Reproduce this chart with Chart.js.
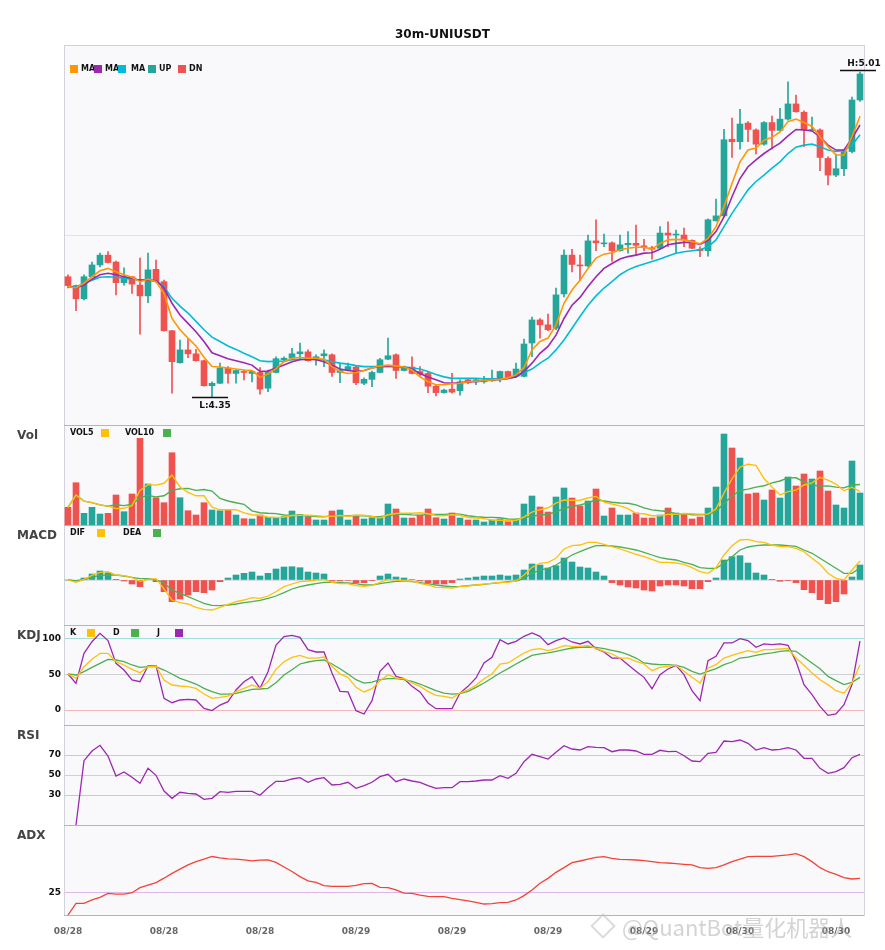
<!DOCTYPE html>
<html>
<head>
<meta charset="utf-8">
<script src="https://cdn.jsdelivr.net/npm/chart.js@4.4.0/dist/chart.umd.min.js"></script>
<style>
  body { margin: 0; background: #fff; font-family: 'DejaVu Sans', sans-serif; }
  #wrap { position: relative; width: 885px; height: 950px; overflow: hidden; }
  #kline { position: absolute; left: 0; top: 0; }
  .t { position: absolute; font-weight: bold; white-space: nowrap; }
  .title { left: 0; width: 885px; text-align: center; top: 27px; font-size: 12px; line-height: 14px; color: #111; }
  .pane { left: 17px; font-size: 12px; line-height: 14px; color: #444; }
  .lg { font-size: 8px; line-height: 8px; color: #111; }
  .bx { position: absolute; width: 8px; height: 8px; }
  .wm { left: 622px; top: 910px; font-family: 'Noto Sans CJK SC', sans-serif; font-weight: normal; font-size: 22px; color: rgba(175,175,175,0.55); }
  .logo { position: absolute; left: 594px; top: 917px; width: 14px; height: 14px; border: 2px solid rgba(190,190,190,0.55); transform: rotate(45deg); }
</style>
</head>
<body>
<div id="wrap">
  <canvas id="kline" width="885" height="950"></canvas>

  <div class="t title">30m-UNIUSDT</div>

  <!-- main legend -->
  <div class="bx" style="left:70px;top:65px;background:#ff9800"></div>
  <div class="t lg" style="left:81px;top:65px">MA</div>
  <div class="bx" style="left:94px;top:65px;background:#9c27b0"></div>
  <div class="t lg" style="left:105px;top:65px">MA</div>
  <div class="bx" style="left:118px;top:65px;background:#00bcd4"></div>
  <div class="t lg" style="left:131px;top:65px">MA</div>
  <div class="bx" style="left:148px;top:65px;background:#26a69a"></div>
  <div class="t lg" style="left:159px;top:65px">UP</div>
  <div class="bx" style="left:178px;top:65px;background:#ef5350"></div>
  <div class="t lg" style="left:189px;top:65px">DN</div>

  <!-- pane labels -->
  <div class="t pane" style="top:428px">Vol</div>
  <div class="t pane" style="top:528px">MACD</div>
  <div class="t pane" style="top:628px">KDJ</div>
  <div class="t pane" style="top:728px">RSI</div>
  <div class="t pane" style="top:828px">ADX</div>

  <!-- vol legend -->
  <div class="t lg" style="left:70px;top:429px">VOL5</div>
  <div class="bx" style="left:101px;top:429px;background:#ffc107"></div>
  <div class="t lg" style="left:125px;top:429px">VOL10</div>
  <div class="bx" style="left:163px;top:429px;background:#4caf50"></div>

  <!-- macd legend -->
  <div class="t lg" style="left:70px;top:529px">DIF</div>
  <div class="bx" style="left:97px;top:529px;background:#ffc107"></div>
  <div class="t lg" style="left:123px;top:529px">DEA</div>
  <div class="bx" style="left:153px;top:529px;background:#4caf50"></div>

  <!-- kdj legend -->
  <div class="t lg" style="left:70px;top:629px">K</div>
  <div class="bx" style="left:87px;top:629px;background:#ffc107"></div>
  <div class="t lg" style="left:113px;top:629px">D</div>
  <div class="bx" style="left:131px;top:629px;background:#4caf50"></div>
  <div class="t lg" style="left:157px;top:629px">J</div>
  <div class="bx" style="left:175px;top:629px;background:#9c27b0"></div>

  <div class="logo"></div>
  <div class="t wm">@QuantBot量化机器人</div>
</div>

<script>
// 30m candles, 08/28 -> 08/30
const dayNames = ['08/28', '08/29', '08/30'];
const dayBars = [36, 48, 16];

const opens = [
  4.595,4.577,4.550,4.595,4.619,4.639,4.625,4.583,4.595,4.578,
  4.556,4.610,4.585,4.485,4.420,4.446,4.438,4.424,4.373,4.378,
  4.409,4.398,4.402,4.398,4.400,4.368,4.400,4.426,4.429,4.438,
  4.442,4.429,4.434,4.436,4.400,4.404,4.411,4.378,4.386,4.400,
  4.427,4.436,4.404,4.411,4.402,4.398,4.372,4.359,4.366,4.363,
  4.385,4.381,4.381,4.383,4.385,4.402,4.392,4.392,4.460,4.507,
  4.497,4.490,4.560,4.639,4.619,4.617,4.668,4.662,4.664,4.648,
  4.660,4.663,4.658,4.654,4.653,4.684,4.680,4.680,4.669,4.651,
  4.648,4.709,4.719,4.875,4.870,4.908,4.894,4.865,4.909,4.893,
  4.916,4.947,4.930,4.893,4.894,4.836,4.802,4.815,4.850,4.955
];
const highs = [
  4.599,4.578,4.599,4.625,4.643,4.646,4.627,4.613,4.596,4.633,
  4.643,4.629,4.588,4.486,4.466,4.468,4.447,4.425,4.381,4.419,
  4.412,4.405,4.405,4.404,4.410,4.405,4.432,4.432,4.449,4.460,
  4.446,4.436,4.446,4.438,4.419,4.419,4.413,4.389,4.403,4.429,
  4.470,4.438,4.413,4.432,4.412,4.401,4.375,4.366,4.398,4.385,
  4.388,4.388,4.392,4.405,4.403,4.403,4.419,4.468,4.513,4.510,
  4.519,4.572,4.650,4.651,4.639,4.680,4.711,4.682,4.666,4.680,
  4.687,4.700,4.671,4.657,4.697,4.707,4.690,4.694,4.670,4.656,
  4.713,4.753,4.895,4.918,4.936,4.911,4.896,4.911,4.922,4.938,
  4.992,4.965,4.933,4.920,4.896,4.839,4.845,4.851,4.961,5.012
];
const lows = [
  4.572,4.526,4.548,4.594,4.615,4.623,4.558,4.578,4.561,4.478,
  4.542,4.584,4.484,4.358,4.419,4.430,4.423,4.372,4.350,4.377,
  4.378,4.378,4.385,4.381,4.356,4.361,4.399,4.424,4.427,4.426,
  4.423,4.415,4.412,4.392,4.379,4.403,4.375,4.375,4.371,4.399,
  4.426,4.388,4.403,4.397,4.392,4.359,4.352,4.358,4.358,4.354,
  4.377,4.375,4.378,4.382,4.381,4.389,4.390,4.391,4.432,4.470,
  4.485,4.487,4.554,4.605,4.587,4.615,4.648,4.656,4.626,4.647,
  4.643,4.639,4.648,4.631,4.652,4.656,4.643,4.656,4.652,4.636,
  4.637,4.708,4.717,4.838,4.855,4.870,4.845,4.863,4.855,4.892,
  4.914,4.930,4.860,4.892,4.811,4.782,4.799,4.801,4.847,4.952
];
const closes = [
  4.577,4.550,4.595,4.619,4.639,4.624,4.583,4.595,4.580,4.556,
  4.609,4.585,4.485,4.422,4.446,4.438,4.424,4.373,4.378,4.409,
  4.398,4.404,4.400,4.402,4.366,4.402,4.428,4.429,4.438,4.442,
  4.424,4.432,4.438,4.400,4.404,4.412,4.379,4.386,4.400,4.426,
  4.434,4.404,4.411,4.398,4.397,4.372,4.359,4.364,4.360,4.381,
  4.379,4.385,4.383,4.387,4.402,4.390,4.407,4.458,4.507,4.497,
  4.487,4.558,4.639,4.620,4.617,4.668,4.664,4.664,4.648,4.660,
  4.663,4.659,4.654,4.651,4.684,4.680,4.682,4.670,4.653,4.648,
  4.711,4.719,4.874,4.870,4.906,4.895,4.865,4.909,4.893,4.916,
  4.947,4.931,4.894,4.895,4.838,4.802,4.815,4.850,4.955,5.008
];

const ma5 = [
  4.575,4.572,4.582,4.595,4.607,4.612,4.605,4.599,4.594,4.585,
  4.590,4.585,4.561,4.510,4.487,4.470,4.454,4.431,4.412,4.411,
  4.409,4.407,4.405,4.404,4.390,4.397,4.408,4.422,4.429,4.431,
  4.429,4.429,4.427,4.412,4.402,4.398,4.400,4.404,4.409,4.413,
  4.415,4.413,4.411,4.405,4.391,4.381,4.375,4.375,4.377,4.378,
  4.381,4.382,4.383,4.385,4.386,4.389,4.395,4.410,4.446,4.463,
  4.470,4.497,4.541,4.568,4.588,4.612,4.633,4.641,4.644,4.650,
  4.653,4.655,4.655,4.651,4.663,4.670,4.671,4.670,4.666,4.662,
  4.673,4.697,4.738,4.785,4.829,4.853,4.857,4.873,4.879,4.890,
  4.911,4.916,4.909,4.901,4.880,4.860,4.843,4.843,4.880,4.922
];
const ma10 = [
  4.575,4.572,4.578,4.590,4.599,4.602,4.599,4.595,4.592,4.588,
  4.588,4.587,4.572,4.541,4.517,4.500,4.483,4.463,4.440,4.434,
  4.428,4.424,4.420,4.415,4.402,4.403,4.409,4.415,4.422,4.426,
  4.427,4.426,4.422,4.415,4.407,4.404,4.402,4.404,4.409,4.412,
  4.413,4.412,4.411,4.407,4.398,4.391,4.385,4.379,4.378,4.379,
  4.381,4.381,4.383,4.385,4.386,4.388,4.391,4.402,4.419,4.439,
  4.453,4.476,4.510,4.537,4.553,4.575,4.595,4.612,4.622,4.631,
  4.636,4.639,4.643,4.644,4.651,4.660,4.663,4.665,4.665,4.661,
  4.669,4.687,4.717,4.758,4.795,4.819,4.833,4.846,4.857,4.867,
  4.882,4.895,4.894,4.892,4.880,4.863,4.853,4.853,4.877,4.904
];
const ma20 = [
  4.575,4.574,4.582,4.588,4.594,4.595,4.594,4.592,4.590,4.588,
  4.588,4.587,4.575,4.551,4.535,4.521,4.504,4.487,4.472,4.463,
  4.454,4.447,4.439,4.432,4.424,4.422,4.423,4.423,4.426,4.427,
  4.427,4.427,4.426,4.422,4.419,4.417,4.414,4.412,4.412,4.412,
  4.413,4.412,4.411,4.409,4.407,4.402,4.396,4.391,4.388,4.388,
  4.388,4.388,4.387,4.387,4.386,4.388,4.392,4.400,4.407,4.419,
  4.429,4.446,4.466,4.490,4.514,4.537,4.556,4.572,4.585,4.599,
  4.609,4.616,4.621,4.626,4.631,4.637,4.643,4.646,4.648,4.650,
  4.656,4.670,4.697,4.724,4.748,4.772,4.789,4.802,4.816,4.829,
  4.846,4.859,4.863,4.865,4.860,4.853,4.850,4.852,4.863,4.884
];

// volume (k)
const volume = [
  17.7,42.3,11.7,17.7,11,11.7,30,13.3,31,86.7,
  41,27.3,22.3,72.3,27.3,14.3,10,22.3,15,14.3,
  15,10,6.3,6,10,7.7,7.7,8.3,14,10.7,
  8.3,5,5,14,15,5,9.3,6,7.3,7.3,
  21,16,7,7,10,16,7.3,6,12,7,
  5,5,3,5,6,3.3,5,21,29,18,
  13,28,37,27,19,24,36,9,17,10,
  10,12,7,7,10,17,12,11.7,6,8,
  17,38,91,77,67,31,32,25,35,27,
  48,39,51,46,54,34,20,17,64,32
];
const vol5 = [
  17.7,30,23.9,22.4,20.1,18.9,16.4,16.7,19.4,34.5,
  40.4,39.9,41.7,49.9,38,32.7,29.2,29.2,17.8,15.2,
  15.3,15.3,12.1,10.3,9.5,8,7.5,7.9,9.5,9.7,
  9.8,9.3,8.6,8.6,9.5,8.8,9.7,9.9,8.5,7,
  10.2,11.5,11.7,11.7,12.2,11.2,9.5,9.3,10.3,9.7,
  7.5,7,6.4,5,4.8,4.5,4.5,8.1,12.9,15.3,
  17.2,21.8,25,24.6,24.8,27,28.6,23,21,19.2,
  16.4,11.6,11.2,9.2,9.2,10.6,10.6,11.5,11.3,10.9,
  10.9,16.1,32,46.2,58,60.8,59.6,46.4,38,30,
  33.4,34.8,40,42.2,47.6,44.8,41,34.2,37.8,33.4
];
const vol10 = [
  17.7,30,23.9,22.4,20.1,18.7,20.3,19.4,20.7,27.3,
  29.6,28.1,29.2,34.7,36.3,36.6,34.6,35.5,33.9,26.6,
  24,22.3,20.7,14.1,12.3,11.7,11.4,10,9.9,9.6,
  8.9,8.4,8.3,9.1,9.6,9.3,9.5,9.2,8.6,8.2,
  9.5,10.6,10.8,10.1,9.6,10.7,10.5,10.5,11,10.9,
  9.3,8.2,7.8,7.6,7.2,6,5.7,7.2,8.9,10,
  10.8,13.1,16.5,18.7,20,22.1,25.2,24,22.8,22,
  21.7,20.1,17.1,15.1,14.2,13.5,11.1,11.4,10.3,10.1,
  10.8,13.4,21.8,28.8,34.5,35.9,37.9,39.2,42.1,44,
  47.1,47.2,43.2,40.1,38.8,39.1,37.9,37.1,40,40.5
];

// MACD (x1e-3)
const macdHist = [
  0,-1,2,6,9,7.3,0.3,-1,-4,-6.7,
  1,-1.7,-11.7,-21.7,-19,-15,-11.7,-12.7,-10,-1.7,
  2,5,6.7,8,4,6.7,11,13,13.3,12.3,
  8,7,6,-1,-1,-0.5,-2.7,-2.7,-0.7,4,
  6,3,2,0.5,-1,-2.7,-4,-4,-2.7,1,
  2,3,4,4,5,4,5,10,16,15,
  12,14.3,22,18,13,12,8,4,-2.7,-5,
  -7,-8,-10,-11,-6,-5,-5,-6,-8.7,-8.7,
  -1.7,2,20,23.3,24.3,17,7,5,0.3,-1.3,
  -0.3,-2.7,-9.7,-12.7,-19.7,-23.7,-21.7,-14,3,15
];
const dif = [
  0,-2.3,0.7,4.7,7.7,8.3,5,4.3,2.3,-1.3,
  0.7,1.3,-9,-20,-22.7,-24,-27.3,-29.3,-30,-27.3,
  -24.3,-21.7,-20,-17.7,-18.3,-16,-11.7,-6.7,-4,-1.7,
  -1,0,0.7,-2.3,-3.7,-3.7,-5.7,-6.3,-5.3,-2.3,
  0.7,0,-1,-1,-3.3,-5,-7.3,-7.7,-8,-6.7,
  -6,-5,-4,-3.3,-2.3,-2.3,-1,5,12.7,16.7,
  17.7,21.7,31,34.3,35,37.7,37.7,35.7,33.3,31,
  28.3,25.7,23.3,20.7,17.7,17.7,17,15.7,12.3,8.3,
  6.7,12.3,25,34.3,40,40.7,38.3,37.7,35,33.3,
  33.3,31.7,28.3,21.7,15.7,6.7,1.7,0,10,19
];
const dea = [
  0,-0.7,0.5,2.7,4.7,5,5,4,2.7,1.3,
  1.3,0,-3,-10,-13.3,-16.7,-20,-23.3,-25.3,-25.7,
  -25,-24,-22.7,-21.7,-20.3,-18.3,-16,-12.7,-9,-6.7,
  -5,-3.7,-2.3,-2.3,-2.7,-3,-3.7,-5,-5,-3.7,
  -2.3,-1.3,-1,-1.7,-2.7,-3.7,-5,-6,-6.7,-6.3,
  -5.7,-5,-4.3,-3.3,-2.7,-1.7,-1,1.7,6.7,10,
  11.7,15,20,25,28.3,31.7,34.3,34.3,34,33,
  31.7,30,27.7,25,22.3,21,20,17.7,15.7,12.3,
  11.7,11.7,16.7,23.3,30,33,34.3,35,35,35,
  34.3,33.7,30,26.7,21.7,16.7,11.7,6.7,6.7,12.3
];

const kdjK = [
  50.7,44.6,61,71.4,79.8,79.8,68,63.4,57.3,52.6,
  61,62,42.3,35.2,33.8,32.9,30.5,22.5,16.4,17.8,
  19.7,25.8,30.5,35.2,30.5,39.9,57.3,68,74.2,77,
  73.2,73.2,74.6,61.5,50.7,46,31.9,25.4,30,41.3,
  49.8,45,44.1,38,33.3,26.3,20.7,19.2,16.9,23.9,
  28.6,34.7,44.1,50.7,64.8,66.2,73.2,80.3,85,86.4,
  83.6,86.4,90.6,89.7,89.7,91.1,86.4,82.6,78.9,73.2,
  73.2,68.5,64.8,55.4,60.1,61.5,62.9,54.5,46,38,
  59.2,63.8,73.2,77,80.3,83.6,81.2,85,85,85.9,
  86.4,73.2,62.9,52.1,42.7,35.7,27.2,23.9,38,63.8
];
const kdjD = [
  50.7,49.3,54,60.1,65.7,71.4,70.4,68,63.4,60.1,
  61,61,56.3,50.7,44.6,40.8,36.6,30.5,25.8,22.5,
  22.5,23.5,26.3,29.1,29.6,30.5,38.5,49.3,56.8,64.8,
  67.6,69.5,70.4,64.8,58.2,50.7,42.7,38,39.4,42.7,
  44.1,44.1,42.7,40.4,36.6,31.9,27.2,23.9,22.5,23,
  26.3,31.9,38,45.1,52.1,58.2,64.8,70.9,77,78.9,
  80.3,82.6,85,87.3,88.3,88.7,88.3,86.4,84,81.7,
  77.9,73.2,66.2,64.8,63.8,63.8,62.9,60.1,54.5,50.7,
  54.5,58.2,63.8,67.6,73.2,74.6,77,78.9,80.3,82.6,
  83.6,82.6,74.2,66.2,58.2,47.4,41.3,35.7,39,46
];
const kdjJ = [
  50.7,37.6,79.8,96.2,108,97.7,65.7,56.3,42.3,39.9,
  62,62.4,16.4,10.3,14.1,15,14.1,2.3,-0.9,7,
  11.7,28.2,39.9,47,30.5,54,91.5,103.3,105,102.3,
  85,81.7,81.7,52.1,26.3,25.4,-0.9,-5.6,13.1,54.5,
  66.2,47.4,44.1,33.3,25.4,9.9,1.9,1.9,1.9,23.9,
  33.3,45.1,66.2,74.2,99.1,93,96.7,103.8,108.5,103.8,
  92,97.7,101.4,95.8,93,96.7,86.4,81.7,73.2,73.2,
  63.8,54.5,46,30,49.8,57.7,62.9,49.8,27.2,13.1,
  69.5,75.6,94.4,94.4,100.5,97.7,88.3,93,92,93,
  91.1,68.5,35.7,21.6,5.2,-7.5,-5.6,7.5,36,97
];

const rsi = [
  null,0,64.3,74,79.7,69,49,53,47.7,41.7,
  56.7,49.7,34,26.7,32.7,31.7,31,25.7,26.7,33.3,
  32.7,33.7,33.7,33.7,29.7,37.3,43.7,43.7,46,47.3,
  42.7,46,47.3,40,40.7,42.7,36.7,39.3,42.7,48.3,
  50.7,43.3,46,44,42.7,39.3,36.7,37.3,37.3,43.3,
  43.3,44,45,45,49.3,46.7,51.7,63.3,70.7,68.3,
  66,72.7,79.3,76,75,78.3,77.7,77.3,73.3,75,
  75,74,70.7,70.7,74.7,73.3,73.7,69.3,64,63.3,
  71.7,72.7,84,83.3,85,81.7,75,77.3,75,75.7,
  77.3,75,66.7,66.7,56.7,51.7,53.3,57.3,67.3,70.7
];
const adx = [
  0,13,13,16.7,19.6,24,23.3,23.3,24.8,30.4,
  33.3,36,40.9,46.3,50.9,55.6,59.4,62,65,63.5,
  62.4,62,61.3,60.1,60.9,61.3,58.5,53.3,48.3,42.6,
  38,36.3,32.6,31.9,31.9,31.9,33,34.8,35.2,30.7,
  30.4,27.8,24.4,24.1,22.2,20.7,20.4,20.4,18.5,17,
  15.6,14,12.2,12.6,13.7,14,16.7,21.5,27.8,35.2,
  40.7,47.4,52.6,58.1,60,62.2,64.1,64.8,63,61.9,
  61.5,61.1,60.4,59.3,58.1,57.8,57,56.3,55.6,52.6,
  51.9,52.6,55.6,59.3,62.2,64.8,65.2,65.2,65.2,65.9,
  66.7,68.1,64.8,59.3,52.6,48.1,45.2,41.5,40,40.7
];

const timeLabels = [];
dayNames.forEach((d, k) => { for (let n = 0; n < dayBars[k]; n++) timeLabels.push(d); });

const UP = '#26a69a', DN = '#ef5350';
const barColors = opens.map((o, i) => closes[i] >= o ? UP : DN);
const histColors = macdHist.map(v => v >= 0 ? UP : DN);

const tickFont = { family: 'DejaVu Sans', size: 9, weight: 'bold' };
const fixWidth = s => { s.width = 64; };
const onlyTicks = vals => s => { s.ticks = vals.map(v => ({ value: v })); };

function lineSet(data, color, axis, width) {
  return { type: 'line', data: data, yAxisID: axis, borderColor: color, borderWidth: width || 1.3,
           pointRadius: 0, tension: 0, fill: false, order: 0, spanGaps: false };
}
function barSet(data, colors, axis, thick, order) {
  return { type: 'bar', data: data, yAxisID: axis, backgroundColor: colors, borderWidth: 0,
           barThickness: thick, grouped: false, order: order };
}

function levelColor(map) {
  return ctx => (ctx.tick && map[ctx.tick.value]) || 'rgba(0,0,0,0)';
}
function pane(weight, stackWeight, min, max, extra) {
  return Object.assign({
    type: 'linear', position: 'left', stack: 'panes', weight: weight, stackWeight: stackWeight,
    min: min, max: max,
    ticks: { display: false },
    grid: { drawTicks: false, color: '#e2e2ea' },
    border: { display: true, color: '#c6c6ce' },
    afterFit: fixWidth
  }, extra);
}

// frame, pane backgrounds and separators
const frame = {
  id: 'frame',
  beforeDraw(chart) {
    const { ctx, chartArea: a } = chart;
    ctx.save();
    ctx.fillStyle = '#f9f9fc';
    ctx.fillRect(a.left, a.top, a.right - a.left, a.bottom - a.top);
    ctx.restore();
  },
  beforeDatasetsDraw(chart) {
    const { ctx, chartArea: a, scales } = chart;
    ctx.save();
    ctx.lineWidth = 1;
    ctx.strokeStyle = '#d2d2da';
    ctx.strokeRect(a.left + 0.5, a.top + 0.5, a.right - a.left, a.bottom - a.top);
    ctx.strokeStyle = '#b4b4bc';
    ['yV', 'yM', 'yK', 'yR', 'yA'].forEach(id => {
      const y = Math.round(scales[id].top) + 0.5;
      ctx.beginPath(); ctx.moveTo(a.left, y); ctx.lineTo(a.right, y); ctx.stroke();
    });
    const yb = Math.round(a.bottom) + 0.5;
    ctx.beginPath(); ctx.moveTo(a.left, yb); ctx.lineTo(a.right, yb); ctx.stroke();
    ctx.restore();
  },
  afterDatasetsDraw(chart) {
    const { ctx } = chart;
    const xs = chart.scales.x, ys = chart.scales.yP;
    let hi = 0, lo = 0;
    highs.forEach((v, i) => { if (v > highs[hi]) hi = i; });
    lows.forEach((v, i) => { if (v < lows[lo]) lo = i; });
    ctx.save();
    ctx.strokeStyle = '#111'; ctx.fillStyle = '#111'; ctx.lineWidth = 1.3;
    ctx.font = 'bold 9px "DejaVu Sans"'; ctx.textAlign = 'center';
    const hx = xs.getPixelForValue(hi), hy = Math.round(ys.getPixelForValue(highs[hi])) - 1.5;
    ctx.beginPath(); ctx.moveTo(hx - 20, hy); ctx.lineTo(hx + 16, hy); ctx.stroke();
    ctx.textBaseline = 'bottom';
    ctx.fillText('H:' + highs[hi].toFixed(2), hx + 4, hy - 2);
    const lx = xs.getPixelForValue(lo), ly = Math.round(ys.getPixelForValue(lows[lo])) + 0.5;
    ctx.beginPath(); ctx.moveTo(lx - 20, ly); ctx.lineTo(lx + 16, ly); ctx.stroke();
    ctx.textBaseline = 'top';
    ctx.fillText('L:' + lows[lo].toFixed(2), lx + 3, ly + 4);
    ctx.restore();
  }
};

new Chart(document.getElementById('kline'), {
  data: {
    labels: timeLabels,
    datasets: [
      // candles
      barSet(lows.map((l, i) => [l, highs[i]]), barColors, 'yP', 1, 3),
      barSet(opens.map((o, i) => [o, closes[i]]), barColors, 'yP', 6, 2),
      lineSet(ma5, '#ff9800', 'yP', 1.6),
      lineSet(ma10, '#9c27b0', 'yP', 1.6),
      lineSet(ma20, '#00bcd4', 'yP', 1.6),
      // volume
      barSet(volume, barColors, 'yV', 6, 2),
      lineSet(vol5, '#ffc107', 'yV', 1.4),
      lineSet(vol10, '#4caf50', 'yV', 1.4),
      // macd
      barSet(macdHist, histColors, 'yM', 6, 2),
      lineSet(dif, '#ffc107', 'yM'),
      lineSet(dea, '#4caf50', 'yM'),
      // kdj
      lineSet(kdjK, '#ffc107', 'yK'),
      lineSet(kdjD, '#4caf50', 'yK'),
      lineSet(kdjJ, '#9c27b0', 'yK'),
      // rsi / adx
      lineSet(rsi, '#9c27b0', 'yR'),
      lineSet(adx, '#f44336', 'yA')
    ]
  },
  options: {
    responsive: false,
    animation: false,
    events: [],
    layout: { padding: { left: 0, right: 21, top: 45, bottom: 15 } },
    plugins: { legend: { display: false }, tooltip: { enabled: false } },
    scales: {
      x: {
        type: 'category', offset: true,
        grid: { display: false }, border: { display: false },
        ticks: {
          autoSkip: false, maxRotation: 0, minRotation: 0, padding: 3, color: '#666', font: tickFont,
          callback: (v, i) => (i % 12 === 0 ? timeLabels[i] : null)
        },
        afterFit: s => { s.height = 20; }
      },
      yP: pane(6, 380, 4.293, 5.067, { afterBuildTicks: onlyTicks([4.68]) }),
      yV: pane(5, 100, 0, 100, { grid: { display: false } }),
      yM: pane(4, 100, -45, 55, {
        afterBuildTicks: onlyTicks([0]),
        grid: { drawTicks: false, color: '#dcdce2' }
      }),
      yK: pane(3, 100, -21.1, 119.7, {
        afterBuildTicks: onlyTicks([0, 50, 100]),
        ticks: { display: true, padding: 3, color: '#111', font: tickFont },
        grid: { drawTicks: false, color: levelColor({ 0: '#f5b8b8', 50: '#cfcfd4', 100: '#a3ddd5' }) }
      }),
      yR: pane(2, 100, 0, 100, {
        afterBuildTicks: onlyTicks([30, 50, 70]),
        ticks: { display: true, padding: 3, color: '#111', font: tickFont },
        grid: { drawTicks: false, color: levelColor({ 30: '#f5b8b8', 50: '#cfcfd4', 70: '#a3ddd5' }) }
      }),
      yA: pane(1, 90, 0, 100, {
        afterBuildTicks: onlyTicks([25]),
        ticks: { display: true, padding: 3, color: '#111', font: tickFont },
        grid: { drawTicks: false, color: levelColor({ 25: '#dcb8e8' }) }
      })
    }
  },
  plugins: [frame]
});
</script>
</body>
</html>
